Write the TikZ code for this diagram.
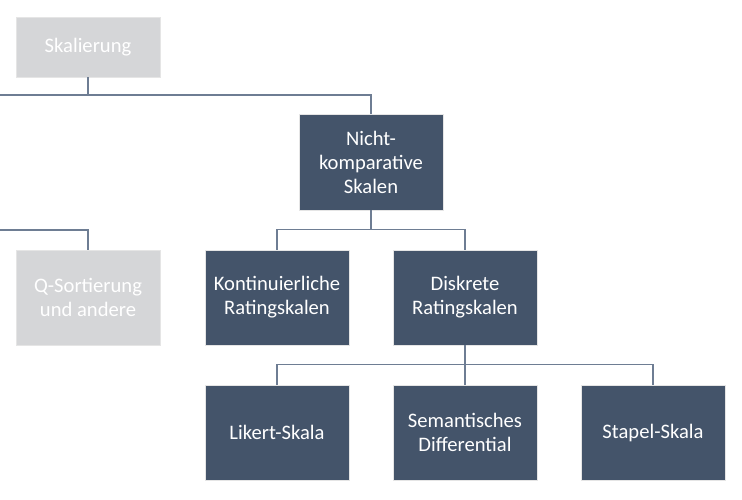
\documentclass[tikz,border=0pt]{standalone}
\usepackage{fontspec}
\setmainfont{Carlito}
\usepackage{xcolor}
\usetikzlibrary{positioning}

\definecolor{slate}{HTML}{44546A}
\definecolor{ghost}{HTML}{D5D6D8}
\definecolor{linkline}{HTML}{6E7D93}

\tikzset{
    box/.style={draw=black!10, line width=0.8pt, minimum width=144pt, minimum height=95pt,
        align=center, text=white, font=\fontsize{20.6}{24}\selectfont, inner sep=2pt},
    dark/.style={box, fill=slate},
    pale/.style={box, fill=ghost},
    link/.style={draw=linkline, line width=1.4pt}
}

\begin{document}
\begin{tikzpicture}[x=1pt, y=-1pt]
    \useasboundingbox (0,0) rectangle (742,499);

    % 1. Kästen
    \node[pale, minimum height=60pt] (skal) at (88,47) {Skalierung};
    \node[dark, minimum height=96pt] (nicht) at (371,162) {Nicht-\\komparative\\Skalen};
    \node[pale] (qsort) at (88,297.5) {Q-Sortierung\\und andere};
    \node[dark] (kont) at (277,297.5) {Kontinuierliche\\Ratingskalen};
    \node[dark] (disk) at (465,297.5) {Diskrete\\Ratingskalen};
    \node[dark] (likert) at (277,432.5) {Likert-Skala};
    \node[dark] (sem) at (465,432.5) {Semantisches\\Differential};
    \node[dark] (stapel) at (653,432.5) {Stapel-Skala};

    % 2. Verbindungen
    \coordinate (busA) at (0,95);
    \coordinate (busB) at (0,230);
    \draw[link] (busA) -| (nicht.north);
    \draw[link] (skal.south) -- (skal.south |- busA);
    \draw[link] (busB) -| (qsort.north);
    \draw[link] (kont.north) -- ++(0,-20) -| (disk.north);
    \draw[link] (nicht.south) -- ++(0,20);
    \draw[link] (likert.north) -- ++(0,-20) -| (stapel.north);
    \draw[link] (disk.south) -- (sem.north);
\end{tikzpicture}
\end{document}
